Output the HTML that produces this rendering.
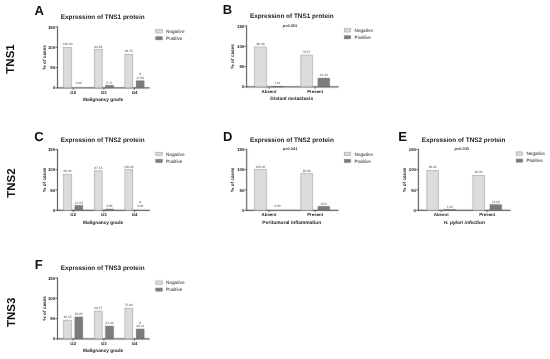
<!DOCTYPE html>
<html><head><meta charset="utf-8"><title>Expression of TNS proteins</title>
<style>
html,body{margin:0;padding:0;background:#fff;}
body{width:550px;height:359px;overflow:hidden;}
svg{display:block;text-rendering:geometricPrecision;font-family:"Liberation Sans",Arial,sans-serif;}
</style></head><body>
<svg width="550" height="359" viewBox="0 0 550 359">
<defs><filter id="soft" color-interpolation-filters="sRGB" x="0" y="0" width="550" height="359" filterUnits="userSpaceOnUse"><feConvolveMatrix order="3" kernelMatrix="0.00640 0.06720 0.00640 0.06720 0.70560 0.06720 0.00640 0.06720 0.00640" edgeMode="duplicate" preserveAlpha="false"/></filter></defs>
<rect x="0" y="0" width="550" height="359" fill="#ffffff"/>
<g filter="url(#soft)">
<rect x="-2" y="-2" width="554" height="363" fill="#ffffff"/>
<line x1="57.50" y1="26.60" x2="57.50" y2="88.40" stroke="#333" stroke-width="0.9"/>
<line x1="57.00" y1="87.90" x2="149.80" y2="87.90" stroke="#333" stroke-width="1.0"/>
<line x1="55.30" y1="87.90" x2="57.50" y2="87.90" stroke="#333" stroke-width="0.8"/>
<line x1="55.30" y1="67.60" x2="57.50" y2="67.60" stroke="#333" stroke-width="0.8"/>
<line x1="55.30" y1="47.30" x2="57.50" y2="47.30" stroke="#333" stroke-width="0.8"/>
<line x1="55.30" y1="27.00" x2="57.50" y2="27.00" stroke="#333" stroke-width="0.8"/>
<line x1="73.20" y1="87.90" x2="73.20" y2="89.70" stroke="#333" stroke-width="0.8"/>
<rect x="63.65" y="47.30" width="7.80" height="40.60" fill="#dcdcdc" stroke="#888888" stroke-width="0.5"/>
<line x1="103.90" y1="87.90" x2="103.90" y2="89.70" stroke="#333" stroke-width="0.8"/>
<rect x="94.35" y="49.62" width="7.80" height="38.28" fill="#dcdcdc" stroke="#888888" stroke-width="0.5"/>
<rect x="105.65" y="85.58" width="7.80" height="2.32" fill="#7a7c7a" stroke="#585858" stroke-width="0.5"/>
<line x1="134.50" y1="87.90" x2="134.50" y2="89.70" stroke="#333" stroke-width="0.8"/>
<rect x="124.95" y="54.30" width="7.80" height="33.60" fill="#dcdcdc" stroke="#888888" stroke-width="0.5"/>
<rect x="136.25" y="80.90" width="7.80" height="7.00" fill="#7a7c7a" stroke="#585858" stroke-width="0.5"/>
<rect x="155.80" y="29.60" width="6.40" height="3.40" fill="#dcdcdc" stroke="#888888" stroke-width="0.5"/>
<rect x="155.80" y="36.80" width="6.40" height="3.00" fill="#7a7c7a" stroke="#585858" stroke-width="0.5"/>
<line x1="246.60" y1="25.60" x2="246.60" y2="87.40" stroke="#333" stroke-width="0.9"/>
<line x1="246.10" y1="86.90" x2="338.60" y2="86.90" stroke="#333" stroke-width="1.0"/>
<line x1="244.40" y1="86.90" x2="246.60" y2="86.90" stroke="#333" stroke-width="0.8"/>
<line x1="244.40" y1="66.60" x2="246.60" y2="66.60" stroke="#333" stroke-width="0.8"/>
<line x1="244.40" y1="46.30" x2="246.60" y2="46.30" stroke="#333" stroke-width="0.8"/>
<line x1="244.40" y1="26.00" x2="246.60" y2="26.00" stroke="#333" stroke-width="0.8"/>
<line x1="269.00" y1="86.90" x2="269.00" y2="88.70" stroke="#333" stroke-width="0.8"/>
<rect x="254.70" y="46.95" width="11.50" height="39.95" fill="#dcdcdc" stroke="#888888" stroke-width="0.5"/>
<rect x="271.80" y="86.25" width="11.50" height="0.65" fill="#7a7c7a" stroke="#585858" stroke-width="0.5"/>
<line x1="315.20" y1="86.90" x2="315.20" y2="88.70" stroke="#333" stroke-width="0.8"/>
<rect x="300.90" y="55.00" width="11.50" height="31.90" fill="#dcdcdc" stroke="#888888" stroke-width="0.5"/>
<rect x="318.00" y="78.20" width="11.50" height="8.70" fill="#7a7c7a" stroke="#585858" stroke-width="0.5"/>
<rect x="344.30" y="28.60" width="6.40" height="3.40" fill="#dcdcdc" stroke="#888888" stroke-width="0.5"/>
<rect x="344.30" y="35.80" width="6.40" height="3.00" fill="#7a7c7a" stroke="#585858" stroke-width="0.5"/>
<line x1="57.50" y1="149.00" x2="57.50" y2="210.80" stroke="#333" stroke-width="0.9"/>
<line x1="57.00" y1="210.30" x2="149.80" y2="210.30" stroke="#333" stroke-width="1.0"/>
<line x1="55.30" y1="210.30" x2="57.50" y2="210.30" stroke="#333" stroke-width="0.8"/>
<line x1="55.30" y1="190.00" x2="57.50" y2="190.00" stroke="#333" stroke-width="0.8"/>
<line x1="55.30" y1="169.70" x2="57.50" y2="169.70" stroke="#333" stroke-width="0.8"/>
<line x1="55.30" y1="149.40" x2="57.50" y2="149.40" stroke="#333" stroke-width="0.8"/>
<line x1="73.20" y1="210.30" x2="73.20" y2="212.10" stroke="#333" stroke-width="0.8"/>
<rect x="63.65" y="174.39" width="7.80" height="35.91" fill="#dcdcdc" stroke="#888888" stroke-width="0.5"/>
<rect x="74.95" y="205.61" width="7.80" height="4.69" fill="#7a7c7a" stroke="#585858" stroke-width="0.5"/>
<line x1="103.90" y1="210.30" x2="103.90" y2="212.10" stroke="#333" stroke-width="0.8"/>
<rect x="94.35" y="170.86" width="7.80" height="39.44" fill="#dcdcdc" stroke="#888888" stroke-width="0.5"/>
<rect x="105.65" y="209.14" width="7.80" height="1.16" fill="#7a7c7a" stroke="#585858" stroke-width="0.5"/>
<line x1="134.50" y1="210.30" x2="134.50" y2="212.10" stroke="#333" stroke-width="0.8"/>
<rect x="124.95" y="169.70" width="7.80" height="40.60" fill="#dcdcdc" stroke="#888888" stroke-width="0.5"/>
<rect x="155.80" y="152.20" width="6.40" height="3.40" fill="#dcdcdc" stroke="#888888" stroke-width="0.5"/>
<rect x="155.80" y="159.40" width="6.40" height="3.00" fill="#7a7c7a" stroke="#585858" stroke-width="0.5"/>
<line x1="246.70" y1="149.00" x2="246.70" y2="210.80" stroke="#333" stroke-width="0.9"/>
<line x1="246.20" y1="210.30" x2="338.60" y2="210.30" stroke="#333" stroke-width="1.0"/>
<line x1="244.50" y1="210.30" x2="246.70" y2="210.30" stroke="#333" stroke-width="0.8"/>
<line x1="244.50" y1="190.00" x2="246.70" y2="190.00" stroke="#333" stroke-width="0.8"/>
<line x1="244.50" y1="169.70" x2="246.70" y2="169.70" stroke="#333" stroke-width="0.8"/>
<line x1="244.50" y1="149.40" x2="246.70" y2="149.40" stroke="#333" stroke-width="0.8"/>
<line x1="269.00" y1="210.30" x2="269.00" y2="212.10" stroke="#333" stroke-width="0.8"/>
<rect x="254.70" y="169.70" width="11.50" height="40.60" fill="#dcdcdc" stroke="#888888" stroke-width="0.5"/>
<line x1="315.20" y1="210.30" x2="315.20" y2="212.10" stroke="#333" stroke-width="0.8"/>
<rect x="300.90" y="173.57" width="11.50" height="36.73" fill="#dcdcdc" stroke="#888888" stroke-width="0.5"/>
<rect x="318.00" y="206.43" width="11.50" height="3.87" fill="#7a7c7a" stroke="#585858" stroke-width="0.5"/>
<rect x="344.30" y="152.20" width="6.40" height="3.40" fill="#dcdcdc" stroke="#888888" stroke-width="0.5"/>
<rect x="344.30" y="159.40" width="6.40" height="3.00" fill="#7a7c7a" stroke="#585858" stroke-width="0.5"/>
<line x1="418.40" y1="149.00" x2="418.40" y2="210.80" stroke="#333" stroke-width="0.9"/>
<line x1="417.90" y1="210.30" x2="510.70" y2="210.30" stroke="#333" stroke-width="1.0"/>
<line x1="416.20" y1="210.30" x2="418.40" y2="210.30" stroke="#333" stroke-width="0.8"/>
<line x1="416.20" y1="190.00" x2="418.40" y2="190.00" stroke="#333" stroke-width="0.8"/>
<line x1="416.20" y1="169.70" x2="418.40" y2="169.70" stroke="#333" stroke-width="0.8"/>
<line x1="416.20" y1="149.40" x2="418.40" y2="149.40" stroke="#333" stroke-width="0.8"/>
<line x1="441.20" y1="210.30" x2="441.20" y2="212.10" stroke="#333" stroke-width="0.8"/>
<rect x="426.90" y="170.37" width="11.50" height="39.93" fill="#dcdcdc" stroke="#888888" stroke-width="0.5"/>
<rect x="444.00" y="209.63" width="11.50" height="0.67" fill="#7a7c7a" stroke="#585858" stroke-width="0.5"/>
<line x1="487.20" y1="210.30" x2="487.20" y2="212.10" stroke="#333" stroke-width="0.8"/>
<rect x="472.90" y="175.24" width="11.50" height="35.06" fill="#dcdcdc" stroke="#888888" stroke-width="0.5"/>
<rect x="490.00" y="204.76" width="11.50" height="5.54" fill="#7a7c7a" stroke="#585858" stroke-width="0.5"/>
<rect x="516.20" y="151.90" width="6.40" height="3.40" fill="#dcdcdc" stroke="#888888" stroke-width="0.5"/>
<rect x="516.20" y="159.10" width="6.40" height="3.00" fill="#7a7c7a" stroke="#585858" stroke-width="0.5"/>
<line x1="57.50" y1="277.60" x2="57.50" y2="339.40" stroke="#333" stroke-width="0.9"/>
<line x1="57.00" y1="338.90" x2="149.80" y2="338.90" stroke="#333" stroke-width="1.0"/>
<line x1="55.30" y1="338.90" x2="57.50" y2="338.90" stroke="#333" stroke-width="0.8"/>
<line x1="55.30" y1="318.60" x2="57.50" y2="318.60" stroke="#333" stroke-width="0.8"/>
<line x1="55.30" y1="298.30" x2="57.50" y2="298.30" stroke="#333" stroke-width="0.8"/>
<line x1="55.30" y1="278.00" x2="57.50" y2="278.00" stroke="#333" stroke-width="0.8"/>
<line x1="73.20" y1="338.90" x2="73.20" y2="340.70" stroke="#333" stroke-width="0.8"/>
<rect x="63.65" y="320.16" width="7.80" height="18.74" fill="#dcdcdc" stroke="#888888" stroke-width="0.5"/>
<rect x="74.95" y="317.04" width="7.80" height="21.86" fill="#7a7c7a" stroke="#585858" stroke-width="0.5"/>
<line x1="103.90" y1="338.90" x2="103.90" y2="340.70" stroke="#333" stroke-width="0.8"/>
<rect x="94.35" y="311.06" width="7.80" height="27.84" fill="#dcdcdc" stroke="#888888" stroke-width="0.5"/>
<rect x="105.65" y="326.14" width="7.80" height="12.76" fill="#7a7c7a" stroke="#585858" stroke-width="0.5"/>
<line x1="134.50" y1="338.90" x2="134.50" y2="340.70" stroke="#333" stroke-width="0.8"/>
<rect x="124.95" y="308.10" width="7.80" height="30.80" fill="#dcdcdc" stroke="#888888" stroke-width="0.5"/>
<rect x="136.25" y="329.10" width="7.80" height="9.80" fill="#7a7c7a" stroke="#585858" stroke-width="0.5"/>
<rect x="155.80" y="280.90" width="6.40" height="3.40" fill="#dcdcdc" stroke="#888888" stroke-width="0.5"/>
<rect x="155.80" y="288.10" width="6.40" height="3.00" fill="#7a7c7a" stroke="#585858" stroke-width="0.5"/>
</g>
<g>
<text transform="translate(10.20,59.00) rotate(-90)" x="0" y="4.2" font-size="11.5" text-anchor="middle" font-weight="bold" fill="#111">TNS1</text>
<text transform="translate(10.60,183.10) rotate(-90)" x="0" y="4.2" font-size="11.5" text-anchor="middle" font-weight="bold" fill="#111">TNS2</text>
<text transform="translate(10.40,312.30) rotate(-90)" x="0" y="4.2" font-size="11.5" text-anchor="middle" font-weight="bold" fill="#111">TNS3</text>
<text x="39.10" y="15.00" font-size="13" text-anchor="middle" font-weight="bold" fill="#111" >A</text>
<text x="60.80" y="19.00" font-size="6.4" text-anchor="start" font-weight="bold" fill="#222" stroke="#222" stroke-width="0.0">Expression of TNS1 protein</text>
<text x="55.10" y="89.40" font-size="4.3" text-anchor="end" font-weight="bold" fill="#222" stroke="#222" stroke-width="0.0">0</text>
<text x="55.10" y="69.10" font-size="4.3" text-anchor="end" font-weight="bold" fill="#222" stroke="#222" stroke-width="0.0">50</text>
<text x="55.10" y="48.80" font-size="4.3" text-anchor="end" font-weight="bold" fill="#222" stroke="#222" stroke-width="0.0">100</text>
<text x="55.10" y="28.50" font-size="4.3" text-anchor="end" font-weight="bold" fill="#222" stroke="#222" stroke-width="0.0">150</text>
<text transform="translate(44.40,57.30) rotate(-90)" x="0" y="1.6" font-size="4.7" text-anchor="middle" font-weight="bold" fill="#222">% of cases</text>
<text x="73.20" y="93.70" font-size="4.3" text-anchor="middle" font-weight="bold" fill="#222" stroke="#222" stroke-width="0.0">G2</text>
<text x="67.55" y="45.40" font-size="3.2" text-anchor="middle" font-weight="normal" fill="#707070" stroke="#707070" stroke-width="0.06">100.00</text>
<text x="78.85" y="84.30" font-size="3.2" text-anchor="middle" font-weight="normal" fill="#707070" stroke="#707070" stroke-width="0.06">0.00</text>
<text x="103.90" y="93.70" font-size="4.3" text-anchor="middle" font-weight="bold" fill="#222" stroke="#222" stroke-width="0.0">G3</text>
<text x="98.25" y="47.72" font-size="3.2" text-anchor="middle" font-weight="normal" fill="#707070" stroke="#707070" stroke-width="0.06">94.29</text>
<text x="109.55" y="83.68" font-size="3.2" text-anchor="middle" font-weight="normal" fill="#707070" stroke="#707070" stroke-width="0.06">5.71</text>
<text x="134.50" y="93.70" font-size="4.3" text-anchor="middle" font-weight="bold" fill="#222" stroke="#222" stroke-width="0.0">G4</text>
<text x="128.85" y="52.40" font-size="3.2" text-anchor="middle" font-weight="normal" fill="#707070" stroke="#707070" stroke-width="0.06">82.76</text>
<text x="140.15" y="79.00" font-size="3.2" text-anchor="middle" font-weight="normal" fill="#707070" stroke="#707070" stroke-width="0.06">17.24</text>
<text x="140.15" y="75.40" font-size="3.2" text-anchor="middle" font-weight="normal" fill="#707070" stroke="#707070" stroke-width="0.06">#</text>
<text x="103.20" y="101.40" font-size="4.78" text-anchor="middle" font-weight="bold" fill="#222" stroke="#222" stroke-width="0.0">Malignancy grade</text>
<text x="166.00" y="33.00" font-size="4.7" text-anchor="start" font-weight="normal" fill="#444" stroke="#444" stroke-width="0.06">Negative</text>
<text x="166.00" y="40.10" font-size="4.7" text-anchor="start" font-weight="normal" fill="#444" stroke="#444" stroke-width="0.06">Positive</text>
<text x="227.40" y="13.70" font-size="13" text-anchor="middle" font-weight="bold" fill="#111" >B</text>
<text x="249.90" y="18.00" font-size="6.4" text-anchor="start" font-weight="bold" fill="#222" stroke="#222" stroke-width="0.0">Expression of TNS1 protein</text>
<text x="244.20" y="88.40" font-size="4.3" text-anchor="end" font-weight="bold" fill="#222" stroke="#222" stroke-width="0.0">0</text>
<text x="244.20" y="68.10" font-size="4.3" text-anchor="end" font-weight="bold" fill="#222" stroke="#222" stroke-width="0.0">50</text>
<text x="244.20" y="47.80" font-size="4.3" text-anchor="end" font-weight="bold" fill="#222" stroke="#222" stroke-width="0.0">100</text>
<text x="244.20" y="27.50" font-size="4.3" text-anchor="end" font-weight="bold" fill="#222" stroke="#222" stroke-width="0.0">150</text>
<text transform="translate(232.30,56.30) rotate(-90)" x="0" y="1.6" font-size="4.7" text-anchor="middle" font-weight="bold" fill="#222">% of cases</text>
<text x="269.00" y="92.70" font-size="4.4" text-anchor="middle" font-weight="bold" fill="#222" stroke="#222" stroke-width="0.0">Absent</text>
<text x="260.45" y="45.05" font-size="3.2" text-anchor="middle" font-weight="normal" fill="#707070" stroke="#707070" stroke-width="0.06">98.39</text>
<text x="277.55" y="84.35" font-size="3.2" text-anchor="middle" font-weight="normal" fill="#707070" stroke="#707070" stroke-width="0.06">1.61</text>
<text x="315.20" y="92.70" font-size="4.4" text-anchor="middle" font-weight="bold" fill="#222" stroke="#222" stroke-width="0.0">Present</text>
<text x="306.65" y="53.10" font-size="3.2" text-anchor="middle" font-weight="normal" fill="#707070" stroke="#707070" stroke-width="0.06">78.57</text>
<text x="323.75" y="76.30" font-size="3.2" text-anchor="middle" font-weight="normal" fill="#707070" stroke="#707070" stroke-width="0.06">21.43</text>
<text x="291.70" y="100.40" font-size="4.85" text-anchor="middle" font-weight="bold" fill="#222" stroke="#222" stroke-width="0.0">Distant metastasis</text>
<text x="354.50" y="32.00" font-size="4.7" text-anchor="start" font-weight="normal" fill="#444" stroke="#444" stroke-width="0.06">Negative</text>
<text x="354.50" y="39.10" font-size="4.7" text-anchor="start" font-weight="normal" fill="#444" stroke="#444" stroke-width="0.06">Positive</text>
<text x="290.00" y="26.60" font-size="3.9" text-anchor="middle" font-weight="bold" fill="#333" stroke="#333" stroke-width="0.0"><tspan font-style="italic">p</tspan>=0.001</text>
<text x="39.00" y="140.90" font-size="13" text-anchor="middle" font-weight="bold" fill="#111" >C</text>
<text x="60.80" y="141.80" font-size="6.4" text-anchor="start" font-weight="bold" fill="#222" stroke="#222" stroke-width="0.0">Expression of TNS2 protein</text>
<text x="55.10" y="211.80" font-size="4.3" text-anchor="end" font-weight="bold" fill="#222" stroke="#222" stroke-width="0.0">0</text>
<text x="55.10" y="191.50" font-size="4.3" text-anchor="end" font-weight="bold" fill="#222" stroke="#222" stroke-width="0.0">50</text>
<text x="55.10" y="171.20" font-size="4.3" text-anchor="end" font-weight="bold" fill="#222" stroke="#222" stroke-width="0.0">100</text>
<text x="55.10" y="150.90" font-size="4.3" text-anchor="end" font-weight="bold" fill="#222" stroke="#222" stroke-width="0.0">150</text>
<text transform="translate(44.40,179.70) rotate(-90)" x="0" y="1.6" font-size="4.7" text-anchor="middle" font-weight="bold" fill="#222">% of cases</text>
<text x="73.20" y="216.10" font-size="4.3" text-anchor="middle" font-weight="bold" fill="#222" stroke="#222" stroke-width="0.0">G2</text>
<text x="67.55" y="172.49" font-size="3.2" text-anchor="middle" font-weight="normal" fill="#707070" stroke="#707070" stroke-width="0.06">88.46</text>
<text x="78.85" y="203.71" font-size="3.2" text-anchor="middle" font-weight="normal" fill="#707070" stroke="#707070" stroke-width="0.06">11.54</text>
<text x="103.90" y="216.10" font-size="4.3" text-anchor="middle" font-weight="bold" fill="#222" stroke="#222" stroke-width="0.0">G3</text>
<text x="98.25" y="168.96" font-size="3.2" text-anchor="middle" font-weight="normal" fill="#707070" stroke="#707070" stroke-width="0.06">97.14</text>
<text x="109.55" y="207.24" font-size="3.2" text-anchor="middle" font-weight="normal" fill="#707070" stroke="#707070" stroke-width="0.06">2.86</text>
<text x="134.50" y="216.10" font-size="4.3" text-anchor="middle" font-weight="bold" fill="#222" stroke="#222" stroke-width="0.0">G4</text>
<text x="128.85" y="167.80" font-size="3.2" text-anchor="middle" font-weight="normal" fill="#707070" stroke="#707070" stroke-width="0.06">100.00</text>
<text x="140.15" y="206.70" font-size="3.2" text-anchor="middle" font-weight="normal" fill="#707070" stroke="#707070" stroke-width="0.06">0.00</text>
<text x="140.15" y="203.10" font-size="3.2" text-anchor="middle" font-weight="normal" fill="#707070" stroke="#707070" stroke-width="0.06">&amp;</text>
<text x="103.20" y="223.80" font-size="4.78" text-anchor="middle" font-weight="bold" fill="#222" stroke="#222" stroke-width="0.0">Malignancy grade</text>
<text x="166.00" y="155.60" font-size="4.7" text-anchor="start" font-weight="normal" fill="#444" stroke="#444" stroke-width="0.06">Negative</text>
<text x="166.00" y="162.70" font-size="4.7" text-anchor="start" font-weight="normal" fill="#444" stroke="#444" stroke-width="0.06">Positive</text>
<text x="227.60" y="141.00" font-size="13" text-anchor="middle" font-weight="bold" fill="#111" >D</text>
<text x="250.00" y="141.80" font-size="6.4" text-anchor="start" font-weight="bold" fill="#222" stroke="#222" stroke-width="0.0">Expression of TNS2 protein</text>
<text x="244.30" y="211.80" font-size="4.3" text-anchor="end" font-weight="bold" fill="#222" stroke="#222" stroke-width="0.0">0</text>
<text x="244.30" y="191.50" font-size="4.3" text-anchor="end" font-weight="bold" fill="#222" stroke="#222" stroke-width="0.0">50</text>
<text x="244.30" y="171.20" font-size="4.3" text-anchor="end" font-weight="bold" fill="#222" stroke="#222" stroke-width="0.0">100</text>
<text x="244.30" y="150.90" font-size="4.3" text-anchor="end" font-weight="bold" fill="#222" stroke="#222" stroke-width="0.0">150</text>
<text transform="translate(232.40,179.70) rotate(-90)" x="0" y="1.6" font-size="4.7" text-anchor="middle" font-weight="bold" fill="#222">% of cases</text>
<text x="269.00" y="216.10" font-size="4.4" text-anchor="middle" font-weight="bold" fill="#222" stroke="#222" stroke-width="0.0">Absent</text>
<text x="260.45" y="167.80" font-size="3.2" text-anchor="middle" font-weight="normal" fill="#707070" stroke="#707070" stroke-width="0.06">100.00</text>
<text x="277.55" y="206.70" font-size="3.2" text-anchor="middle" font-weight="normal" fill="#707070" stroke="#707070" stroke-width="0.06">0.00</text>
<text x="315.20" y="216.10" font-size="4.4" text-anchor="middle" font-weight="bold" fill="#222" stroke="#222" stroke-width="0.0">Present</text>
<text x="306.65" y="171.67" font-size="3.2" text-anchor="middle" font-weight="normal" fill="#707070" stroke="#707070" stroke-width="0.06">90.48</text>
<text x="323.75" y="204.53" font-size="3.2" text-anchor="middle" font-weight="normal" fill="#707070" stroke="#707070" stroke-width="0.06">9.52</text>
<text x="291.80" y="223.80" font-size="4.9" text-anchor="middle" font-weight="bold" fill="#222" stroke="#222" stroke-width="0.0">Peritumoral inflammation</text>
<text x="354.50" y="155.60" font-size="4.7" text-anchor="start" font-weight="normal" fill="#444" stroke="#444" stroke-width="0.06">Negative</text>
<text x="354.50" y="162.70" font-size="4.7" text-anchor="start" font-weight="normal" fill="#444" stroke="#444" stroke-width="0.06">Positive</text>
<text x="290.10" y="150.00" font-size="3.9" text-anchor="middle" font-weight="bold" fill="#333" stroke="#333" stroke-width="0.0"><tspan font-style="italic">p</tspan>=0.041</text>
<text x="402.60" y="141.00" font-size="13" text-anchor="middle" font-weight="bold" fill="#111" >E</text>
<text x="421.70" y="141.80" font-size="6.4" text-anchor="start" font-weight="bold" fill="#222" stroke="#222" stroke-width="0.0">Expression of TNS2 protein</text>
<text x="416.00" y="211.80" font-size="4.3" text-anchor="end" font-weight="bold" fill="#222" stroke="#222" stroke-width="0.0">0</text>
<text x="416.00" y="191.50" font-size="4.3" text-anchor="end" font-weight="bold" fill="#222" stroke="#222" stroke-width="0.0">50</text>
<text x="416.00" y="171.20" font-size="4.3" text-anchor="end" font-weight="bold" fill="#222" stroke="#222" stroke-width="0.0">100</text>
<text x="416.00" y="150.90" font-size="4.3" text-anchor="end" font-weight="bold" fill="#222" stroke="#222" stroke-width="0.0">150</text>
<text transform="translate(404.40,179.70) rotate(-90)" x="0" y="1.6" font-size="4.7" text-anchor="middle" font-weight="bold" fill="#222">% of cases</text>
<text x="441.20" y="216.10" font-size="4.4" text-anchor="middle" font-weight="bold" fill="#222" stroke="#222" stroke-width="0.0">Absent</text>
<text x="432.65" y="168.47" font-size="3.2" text-anchor="middle" font-weight="normal" fill="#707070" stroke="#707070" stroke-width="0.06">98.36</text>
<text x="449.75" y="207.73" font-size="3.2" text-anchor="middle" font-weight="normal" fill="#707070" stroke="#707070" stroke-width="0.06">1.64</text>
<text x="487.20" y="216.10" font-size="4.4" text-anchor="middle" font-weight="bold" fill="#222" stroke="#222" stroke-width="0.0">Present</text>
<text x="478.65" y="173.34" font-size="3.2" text-anchor="middle" font-weight="normal" fill="#707070" stroke="#707070" stroke-width="0.06">86.36</text>
<text x="495.75" y="202.86" font-size="3.2" text-anchor="middle" font-weight="normal" fill="#707070" stroke="#707070" stroke-width="0.06">13.64</text>
<text x="464.30" y="223.80" font-size="4.9" text-anchor="middle" font-weight="bold" fill="#222" stroke="#222" stroke-width="0.0"><tspan font-style="italic">H. pylori infection</tspan></text>
<text x="526.40" y="155.30" font-size="4.7" text-anchor="start" font-weight="normal" fill="#444" stroke="#444" stroke-width="0.06">Negative</text>
<text x="526.40" y="162.40" font-size="4.7" text-anchor="start" font-weight="normal" fill="#444" stroke="#444" stroke-width="0.06">Positive</text>
<text x="461.80" y="150.00" font-size="3.9" text-anchor="middle" font-weight="bold" fill="#333" stroke="#333" stroke-width="0.0"><tspan font-style="italic">p</tspan>=0.033</text>
<text x="38.70" y="269.40" font-size="13" text-anchor="middle" font-weight="bold" fill="#111" >F</text>
<text x="60.80" y="270.40" font-size="6.4" text-anchor="start" font-weight="bold" fill="#222" stroke="#222" stroke-width="0.0">Expression of TNS3 protein</text>
<text x="55.10" y="340.40" font-size="4.3" text-anchor="end" font-weight="bold" fill="#222" stroke="#222" stroke-width="0.0">0</text>
<text x="55.10" y="320.10" font-size="4.3" text-anchor="end" font-weight="bold" fill="#222" stroke="#222" stroke-width="0.0">50</text>
<text x="55.10" y="299.80" font-size="4.3" text-anchor="end" font-weight="bold" fill="#222" stroke="#222" stroke-width="0.0">100</text>
<text x="55.10" y="279.50" font-size="4.3" text-anchor="end" font-weight="bold" fill="#222" stroke="#222" stroke-width="0.0">150</text>
<text transform="translate(44.40,308.30) rotate(-90)" x="0" y="1.6" font-size="4.7" text-anchor="middle" font-weight="bold" fill="#222">% of cases</text>
<text x="73.20" y="344.70" font-size="4.3" text-anchor="middle" font-weight="bold" fill="#222" stroke="#222" stroke-width="0.0">G2</text>
<text x="67.55" y="318.26" font-size="3.2" text-anchor="middle" font-weight="normal" fill="#707070" stroke="#707070" stroke-width="0.06">46.15</text>
<text x="78.85" y="315.14" font-size="3.2" text-anchor="middle" font-weight="normal" fill="#707070" stroke="#707070" stroke-width="0.06">53.85</text>
<text x="103.90" y="344.70" font-size="4.3" text-anchor="middle" font-weight="bold" fill="#222" stroke="#222" stroke-width="0.0">G3</text>
<text x="98.25" y="309.16" font-size="3.2" text-anchor="middle" font-weight="normal" fill="#707070" stroke="#707070" stroke-width="0.06">68.57</text>
<text x="109.55" y="324.24" font-size="3.2" text-anchor="middle" font-weight="normal" fill="#707070" stroke="#707070" stroke-width="0.06">31.43</text>
<text x="134.50" y="344.70" font-size="4.3" text-anchor="middle" font-weight="bold" fill="#222" stroke="#222" stroke-width="0.0">G4</text>
<text x="128.85" y="306.20" font-size="3.2" text-anchor="middle" font-weight="normal" fill="#707070" stroke="#707070" stroke-width="0.06">75.86</text>
<text x="140.15" y="327.20" font-size="3.2" text-anchor="middle" font-weight="normal" fill="#707070" stroke="#707070" stroke-width="0.06">24.14</text>
<text x="140.15" y="323.60" font-size="3.2" text-anchor="middle" font-weight="normal" fill="#707070" stroke="#707070" stroke-width="0.06">#</text>
<text x="103.20" y="352.40" font-size="4.78" text-anchor="middle" font-weight="bold" fill="#222" stroke="#222" stroke-width="0.0">Malignancy grade</text>
<text x="166.00" y="284.30" font-size="4.7" text-anchor="start" font-weight="normal" fill="#444" stroke="#444" stroke-width="0.06">Negative</text>
<text x="166.00" y="291.40" font-size="4.7" text-anchor="start" font-weight="normal" fill="#444" stroke="#444" stroke-width="0.06">Positive</text>
</g>
</svg>
</body></html>
